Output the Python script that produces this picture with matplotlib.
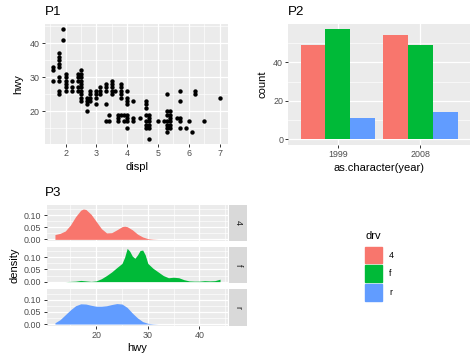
import numpy as np
import matplotlib.pyplot as plt
from matplotlib.ticker import MultipleLocator

plt.rcParams['font.family'] = ['Liberation Sans', 'DejaVu Sans']

# P1: displ vs hwy
pts = [(1.6, 33), (1.6, 32), (1.6, 29),
       (1.8, 37), (1.8, 36), (1.8, 35), (1.8, 34), (1.8, 33), (1.8, 30), (1.8, 29), (1.8, 26), (1.8, 25),
       (1.9, 44), (1.9, 41),
       (2.0, 31), (2.0, 30), (2.0, 29), (2.0, 28), (2.0, 27), (2.0, 26),
       (2.2, 29), (2.2, 27), (2.2, 26),
       (2.4, 31), (2.4, 30), (2.4, 29), (2.4, 27), (2.4, 26),
       (2.5, 32), (2.5, 31), (2.5, 30), (2.5, 29), (2.5, 28), (2.5, 27), (2.5, 26), (2.5, 25), (2.5, 24), (2.5, 23),
       (2.7, 24), (2.7, 23), (2.7, 22), (2.7, 20),
       (2.8, 26), (2.8, 25), (2.8, 24), (2.8, 23),
       (3.0, 26), (3.0, 25), (3.0, 24), (3.0, 22),
       (3.1, 27), (3.1, 26), (3.1, 25),
       (3.3, 28), (3.3, 27), (3.3, 26), (3.3, 22), (3.3, 17),
       (3.4, 19), (3.4, 17),
       (3.5, 29), (3.5, 28), (3.5, 27), (3.5, 26), (3.5, 25),
       (3.6, 26),
       (3.7, 19), (3.7, 18), (3.7, 17),
       (3.8, 28), (3.8, 27), (3.8, 26), (3.8, 25), (3.8, 24), (3.8, 19),
       (3.9, 19), (3.9, 17),
       (4.0, 26), (4.0, 24), (4.0, 23), (4.0, 22), (4.0, 19), (4.0, 18), (4.0, 17), (4.0, 15),
       (4.2, 23), (4.2, 18), (4.2, 17),
       (4.4, 18),
       (4.6, 23), (4.6, 22), (4.6, 21), (4.6, 19), (4.6, 17), (4.6, 16), (4.6, 15),
       (4.7, 19), (4.7, 18), (4.7, 17), (4.7, 16), (4.7, 15), (4.7, 12),
       (5.0, 17), (5.2, 17),
       (5.3, 25), (5.3, 20), (5.3, 19), (5.3, 17), (5.3, 16), (5.3, 15), (5.3, 14),
       (5.4, 20), (5.4, 19), (5.4, 18), (5.4, 17), (5.4, 16), (5.4, 15),
       (5.6, 18), (5.7, 26), (5.7, 23), (5.7, 18), (5.7, 17), (5.7, 15),
       (5.9, 15), (6.0, 17), (6.1, 14), (6.2, 26), (6.2, 25), (6.5, 17), (7.0, 24)]
displ = [p[0] for p in pts]
hwy = [p[1] for p in pts]

# P2: counts by year and drv
years = ['1999', '2008']
drv = ['4', 'f', 'r']
counts = {'4': [49, 54], 'f': [57, 49], 'r': [11, 14]}
cols = {'4': '#F8766D', 'f': '#00BA38', 'r': '#619CFF'}

# P3: density curves
dens_x = {
    '4': [12, 13, 14, 15, 16, 17, 17.5, 18, 19, 20, 21, 22, 23, 24, 25, 25.5, 26, 27, 28, 29, 30, 31, 32, 44],
    'f': [12, 14, 16, 17, 18, 19, 20, 21, 22, 23, 24, 25, 25.5, 26, 26.5, 27, 27.5, 28, 28.5, 29, 29.5,
          30, 31, 32, 33, 34, 35, 36, 37, 38, 39, 40, 41, 42, 43, 44],
    'r': [12, 13, 14, 15, 16, 17, 18, 19, 20, 21, 22, 23, 24, 25, 26, 27, 28, 29, 30, 31, 32, 44],
}
dens_y = {
    '4': [0.020, 0.025, 0.035, 0.060, 0.095, 0.122, 0.127, 0.125, 0.105, 0.075, 0.045, 0.027, 0.028,
          0.040, 0.053, 0.055, 0.053, 0.040, 0.022, 0.010, 0.003, 0.001, 0.0, 0.0],
    'f': [0.0, 0.0, 0.002, 0.005, 0.003, 0.001, 0.003, 0.012, 0.025, 0.040, 0.058, 0.075, 0.100, 0.137,
          0.125, 0.105, 0.096, 0.110, 0.128, 0.130, 0.110, 0.075, 0.055, 0.040, 0.025, 0.016, 0.018,
          0.016, 0.008, 0.003, 0.002, 0.002, 0.004, 0.003, 0.004, 0.010],
    'r': [0.005, 0.018, 0.038, 0.058, 0.075, 0.083, 0.082, 0.077, 0.073, 0.073, 0.075, 0.080, 0.084,
          0.082, 0.068, 0.045, 0.025, 0.010, 0.003, 0.001, 0.0, 0.0],
}

W, H = 474, 361
fig = plt.figure(figsize=(W / 100, H / 100), dpi=100)

TICK = 6.4
LAB = 8
TIT = 9.6


def ax_at(l, t, r, b):
    return fig.add_axes([l / W, 1 - b / H, (r - l) / W, (b - t) / H])


def gg(ax):
    ax.set_facecolor('#EBEBEB')
    for s in ax.spines.values():
        s.set_visible(False)
    ax.grid(True, which='major', color='white', lw=0.9)
    ax.grid(True, which='minor', color='white', lw=0.45)
    ax.set_axisbelow(True)
    ax.tick_params(which='major', length=2.2, width=0.7, color='#333333',
                   labelsize=TICK, labelcolor='#4D4D4D', pad=1.5)
    ax.tick_params(which='minor', length=0)


# P1
ax1 = ax_at(45, 24, 228, 144)
gg(ax1)
ax1.scatter(displ, hwy, s=10, color='black', lw=0, zorder=3)
ax1.set_xlim(1.33, 7.27)
ax1.set_ylim(10.4, 45.6)
ax1.set_xticks([2, 3, 4, 5, 6, 7])
ax1.set_yticks([20, 30, 40])
ax1.xaxis.set_minor_locator(MultipleLocator(0.5))
ax1.yaxis.set_minor_locator(MultipleLocator(5))
ax1.set_xlabel('displ', fontsize=LAB, labelpad=2.5)
ax1.set_ylabel('hwy', fontsize=LAB, labelpad=5)
fig.text(45 / W, 1 - 12 / H, 'P1', fontsize=TIT, va='center', ha='left')

# P2
ax2 = ax_at(288.3, 24, 470, 145)
gg(ax2)
xpos = np.arange(1, len(years) + 1)
bw = 0.3
for i, d in enumerate(drv):
    ax2.bar(xpos + (i - 1) * bw, counts[d], width=bw, color=cols[d], zorder=3)
ax2.set_xlim(0.4, 2.6)
ax2.set_ylim(-2.85, 59.85)
ax2.set_xticks(xpos)
ax2.set_xticklabels(years)
ax2.set_yticks([0, 20, 40])
ax2.yaxis.set_minor_locator(MultipleLocator(10))
ax2.set_xlabel('as.character(year)', fontsize=LAB, labelpad=3)
ax2.set_ylabel('count', fontsize=LAB, labelpad=4)
fig.text(288 / W, 1 - 12 / H, 'P2', fontsize=TIT, va='center', ha='left')

# P3
panels = [(205, 241), (246.7, 283.3), (289, 325.7)]
for k, d in enumerate(drv):
    t, b = panels[k]
    ax = ax_at(46.7, t, 228.3, b)
    gg(ax)
    ax.fill_between(dens_x[d], dens_y[d], 0, color=cols[d], lw=0, zorder=3)
    ax.set_xlim(10.4, 45.6)
    ax.set_ylim(-0.0069, 0.1438)
    ax.set_xticks([20, 30, 40])
    ax.xaxis.set_minor_locator(MultipleLocator(5))
    ax.set_yticks([0, 0.05, 0.10])
    ax.set_yticklabels(['0.00', '0.05', '0.10'])
    ax.yaxis.set_minor_locator(MultipleLocator(0.025))
    if k < 2:
        ax.tick_params(axis='x', which='major', length=0, labelbottom=False)
    else:
        ax.set_xlabel('hwy', fontsize=LAB, labelpad=2)
    # strip
    st = ax_at(229.3, t, 246.7, b)
    st.set_facecolor('#D9D9D9')
    st.set_xticks([])
    st.set_yticks([])
    for s in st.spines.values():
        s.set_visible(False)
    st.text(0.5, 0.5, d, rotation=-90, ha='center', va='center', fontsize=TICK,
            color='#1A1A1A', transform=st.transAxes)
fig.text(15 / W, 1 - 265 / H, 'density', rotation=90, fontsize=LAB, ha='center', va='center')
fig.text(45 / W, 1 - 193 / H, 'P3', fontsize=TIT, va='center', ha='left')

# legend
fig.text(365 / W, 1 - 236 / H, 'drv', fontsize=LAB, ha='left', va='center')
for i, d in enumerate(drv):
    top = 246.7 + i * 18.7
    fig.patches.append(plt.Rectangle((365 / W, 1 - (top + 16.7) / H), 17.3 / W, 16.7 / H,
                                     transform=fig.transFigure, color=cols[d], figure=fig))
    fig.text(389 / W, 1 - (top + 8.3) / H, d, fontsize=TICK, ha='left', va='center')

fig.savefig('out.png', dpi=100, facecolor='white')
